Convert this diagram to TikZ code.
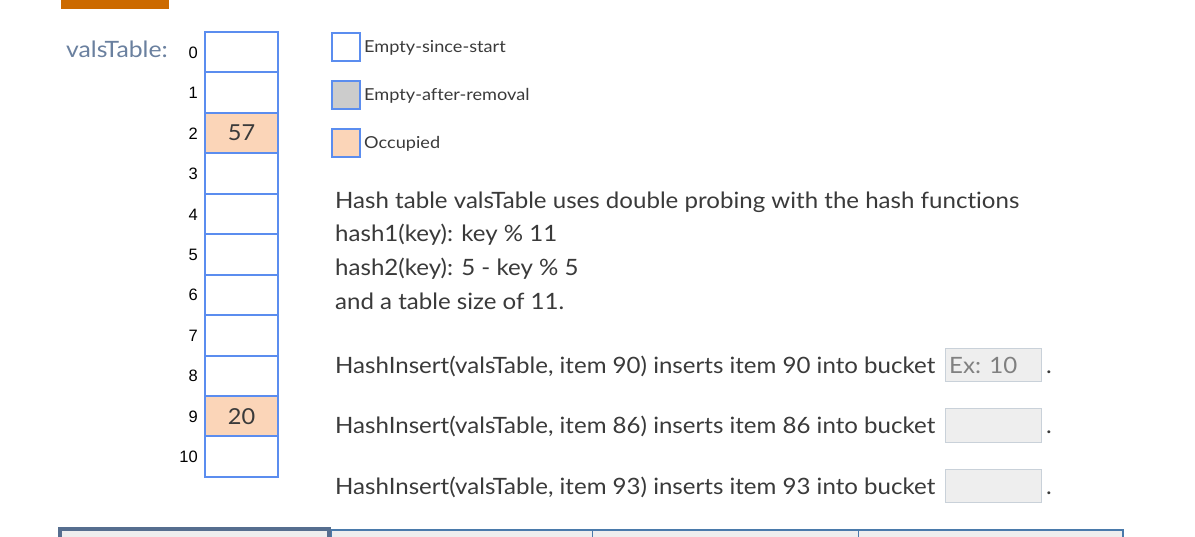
\documentclass[tikz,border=0pt]{standalone}
\usepackage{fontspec}
\setmainfont{Lato}[FakeStretch=1.07, Ligatures=NoCommon]
\newfontfamily\legfont{Lato}[FakeStretch=1.1, Ligatures=NoCommon]
\newfontfamily\arialfont{Liberation Sans}
\begin{document}
\begin{tikzpicture}[x=1pt,y=-1pt,
  cell/.style={draw=cellblue, line width=2pt, minimum width=73pt, minimum height=40.45pt, inner sep=0pt, font=\fontsize{22}{24}\selectfont\color{txt}},
  occ/.style={cell, fill=occfill},
  idx/.style={anchor=base east, font=\arialfont\fontsize{16.5}{18}\selectfont, text=black, inner sep=0pt},
  legbox/.style={draw=cellblue, line width=2.5pt, minimum width=28pt, minimum height=28pt, inner sep=0pt},
  legtxt/.style={anchor=base west, font=\legfont\fontsize{16.5}{18}\selectfont, text=txt, inner sep=0pt},
  para/.style={anchor=base west, font=\fontsize{22.5}{26}\selectfont, text=txt, inner sep=0pt},
  inbox/.style={draw=inborder, fill=infill, line width=1pt, minimum width=96pt, minimum height=33pt, inner sep=0pt},
]
\definecolor{cellblue}{HTML}{5B8DEF}
\definecolor{occfill}{HTML}{FBD5B8}
\definecolor{gryfill}{HTML}{CCCCCC}
\definecolor{txt}{HTML}{3A3A3A}
\definecolor{lbl}{HTML}{6A809F}
\definecolor{orng}{HTML}{CC6A00}
\definecolor{inborder}{HTML}{C9D1D9}
\definecolor{infill}{HTML}{EEEEEE}
\definecolor{tabdark}{HTML}{566E8F}
\definecolor{tabline}{HTML}{4A7AAB}
\useasboundingbox (0,0) rectangle (1195,537);
\fill[white] (0,0) rectangle (1195,537);
% top orange bar
\fill[orng] (61,0) rectangle (169,9.5);
% label
\node[anchor=base east, font=\legfont\fontsize{22.5}{24}\selectfont, text=lbl, inner sep=0pt] (lab) at (168,58) {valsTable:};
% cells
\foreach \i in {0,...,10} {
  \pgfmathsetmacro{\cy}{32+40.45*\i+20.22}
  \ifnum\i=2
    \node[occ] (c\i) at (241.5,\cy) {57};
  \else\ifnum\i=9
    \node[occ] (c\i) at (241.5,\cy) {20};
  \else
    \node[cell] (c\i) at (241.5,\cy) {};
  \fi\fi
  \node[idx] (n\i) at (198,\cy+6) {\i};
}
% legend
\node[legbox, fill=white] (l1) at (346,47) {};
\node[legtxt] (t1) at (364,53) {Empty-since-start};
\node[legbox, fill=gryfill] (l2) at (346,95) {};
\node[legtxt] (t2) at (364,101) {Empty-after-removal};
\node[legbox, fill=occfill] (l3) at (346,143) {};
\node[legtxt] (t3) at (364,149) {Occupied};
% paragraph
\node[para] (p1) at (335,209) {Hash table valsTable uses double probing with the hash functions};
\node[para] (p2) at (335,242) {hash1(key): key \% 11};
\node[para] (p3) at (335,276) {hash2(key): 5 - key \% 5};
\node[para] (p4) at (335,310) {and a table size of 11.};
% questions
\node[para] (q1) at (335,374) {HashInsert(valsTable, item 90) inserts item 90 into bucket};
\node[para] (q2) at (335,434) {HashInsert(valsTable, item 86) inserts item 86 into bucket};
\node[para] (q3) at (335,494) {HashInsert(valsTable, item 93) inserts item 93 into bucket};
\node[inbox] (b1) at (993,365.5) {};
\node[anchor=base west, font=\fontsize{22.5}{26}\selectfont, text=gray, inner sep=0pt] (ex) at (949,374) {Ex: 10};
\node[inbox] (b2) at (993,425.5) {};
\node[inbox] (b3) at (993,485.5) {};
\node[para] (d1) at (1046,374) {.};
\node[para] (d2) at (1046,434) {.};
\node[para] (d3) at (1046,494) {.};
% bottom tabs
\draw[tabline, fill=infill, line width=1.3pt] (331,530) rectangle (1123,545);
\draw[tabline, line width=0.8pt] (592,530) -- (592,537);
\draw[tabline, line width=0.8pt] (858,530) -- (858,537);
\draw[tabdark, fill=infill, line width=4pt] (60,529) rectangle (329,548);
\end{tikzpicture}
\end{document}
